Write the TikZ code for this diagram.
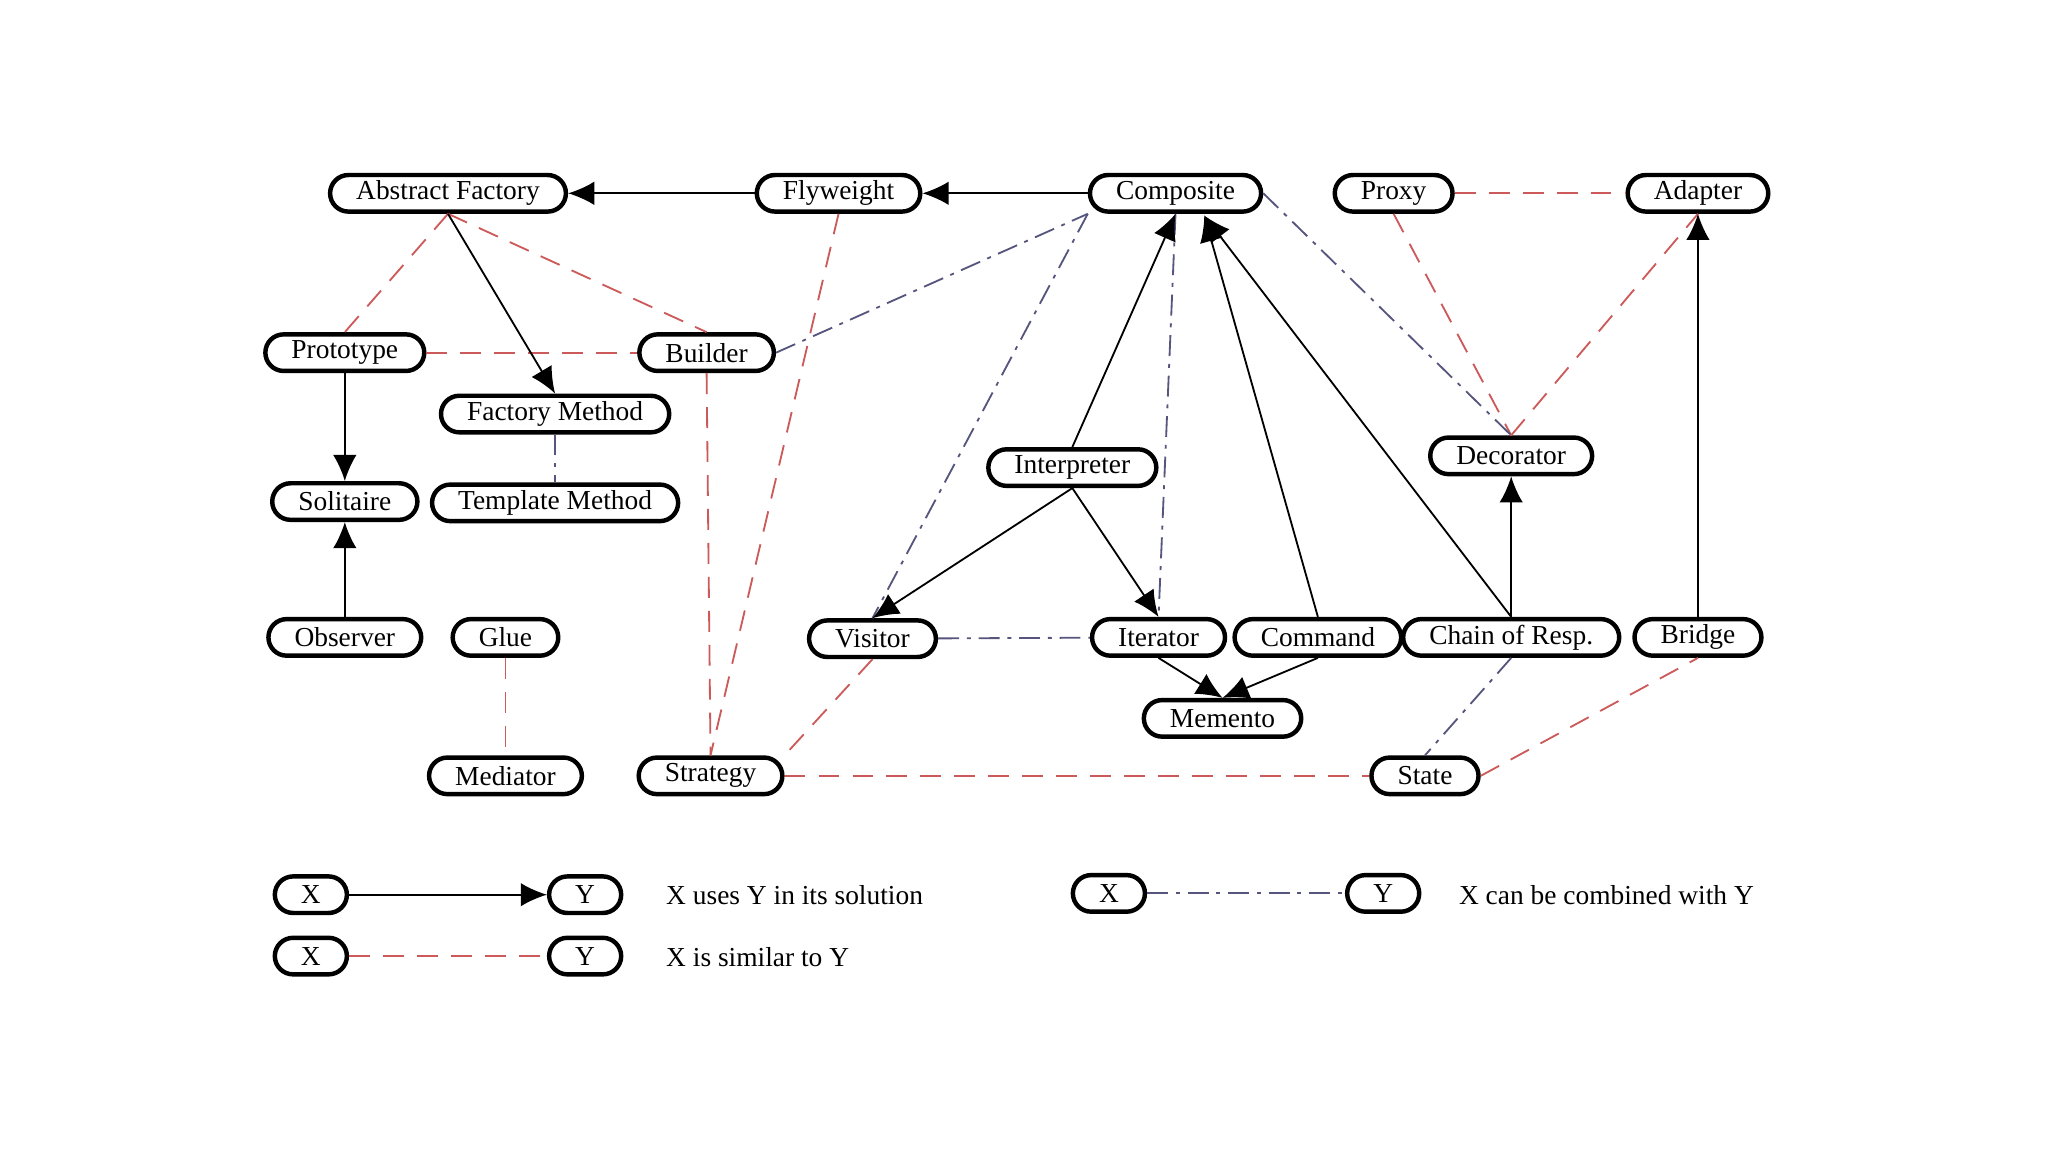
\documentclass[tikz,border=0pt]{standalone}
\usepackage{fontspec}
\setmainfont{Liberation Serif}
\usetikzlibrary{arrows.meta}
\definecolor{simred}{RGB}{205,90,90}
\definecolor{comb}{RGB}{85,85,125}
\begin{document}
\begin{tikzpicture}[x=0.5pt,y=-0.5pt,
  pat/.style={draw,line width=1.7pt,rounded corners=7pt,minimum height=14pt,inner xsep=10pt,inner ysep=1pt,font=\fontsize{10.5}{11}\selectfont,fill=white},
  uses/.style={draw,line width=0.7pt,-{Latex[length=10pt,width=9pt]}},
  similar/.style={draw=simred,line width=0.7pt,dash pattern=on 8pt off 5pt},
  combined/.style={draw=comb,line width=0.7pt,dash pattern=on 8pt off 3pt on 1.5pt off 3pt},
  lbl/.style={anchor=west,font=\fontsize{10.5}{11}\selectfont}]
\useasboundingbox[fill=white] (0,0) rectangle (1568,882);
\node[pat] (af) at (343,148) {Abstract Factory};
\node[pat] (fw) at (642,148) {Flyweight};
\node[pat] (co) at (900,148) {Composite};
\node[pat] (px) at (1067,148) {Proxy};
\node[pat] (ad) at (1300,148) {Adapter};
\node[pat] (pr) at (264,270) {Prototype};
\node[pat] (bu) at (541,270) {Builder};
\node[pat] (fm) at (425,317) {Factory Method};
\node[pat] (tm) at (425,385) {Template Method};
\node[pat] (so) at (264,384) {Solitaire};
\node[pat] (in) at (821,358) {Interpreter};
\node[pat] (de) at (1157,349) {Decorator};
\node[pat] (ob) at (264,488) {Observer};
\node[pat] (gl) at (387,488) {Glue};
\node[pat] (vi) at (668,489) {Visitor};
\node[pat] (it) at (887,488) {Iterator};
\node[pat] (cm) at (1009,488) {Command};
\node[pat] (ch) at (1157,488) {Chain of Resp.};
\node[pat] (br) at (1300,488) {Bridge};
\node[pat] (me) at (936,550) {Memento};
\node[pat] (md) at (387,594) {Mediator};
\node[pat] (st) at (544,594) {Strategy};
\node[pat] (sa) at (1091,594) {State};
\coordinate (coin) at (922,165);
% similar
\draw[similar] (af.south) -- (pr.north);
\draw[similar] (af.south) -- (bu.north);
\draw[similar] (pr) -- (bu);
\draw[similar] (bu.south) -- (st.north);
\draw[similar] (fw.south) -- (st.north);
\draw[similar] (gl) -- (md);
\draw[similar] (vi.south) -- (st.north east);
\draw[similar] (st) -- (sa);
\draw[similar] (sa.east) -- (br.south);
\draw[similar] (px) -- (ad);
\draw[similar] (px.south) -- (de.north);
\draw[similar] (de.north) -- (ad.south);
% combined
\draw[combined] (bu.east) -- (co.south west);
\draw[combined] (co.south west) -- (vi.north);
\draw[combined] (co.south) -- (it.north);
\draw[combined] (co.east) -- (de.north);
\draw[combined] (vi) -- (it);
\draw[combined] (ch.south) -- (sa.north);
\draw[combined] (fm) -- (tm);
% uses
\draw[uses] (fw) -- (af);
\draw[uses] (co) -- (fw);
\draw[uses] (af.south) -- (fm.north);
\draw[uses] (pr) -- (so);
\draw[uses] (ob) -- (so);
\draw[uses] (in.north) -- (co.south);
\draw[uses] (in.south) -- (vi.north);
\draw[uses] (in.south) -- (it.north);
\draw[uses] (cm.north) -- (coin);
\draw[uses] (ch.north) -- (coin);
\draw[uses] (ch) -- (de);
\draw[uses] (br) -- (ad);
\draw[uses] (it.south) -- (me.north);
\draw[uses] (cm.south) -- (me.north);
% legend
\node[pat] (lx1) at (238,685) {X};
\node[pat] (ly1) at (448,685) {Y};
\draw[uses] (lx1) -- (ly1);
\node[lbl] (lt1) at (503,685) {X uses Y in its solution};
\node[pat] (lx2) at (849,684) {X};
\node[pat] (ly2) at (1059,684) {Y};
\draw[combined] (lx2) -- (ly2);
\node[lbl] (lt2) at (1110,685) {X can be combined with Y};
\node[pat] (lx3) at (238,732) {X};
\node[pat] (ly3) at (448,732) {Y};
\draw[similar] (lx3) -- (ly3);
\node[lbl] (lt3) at (503,733) {X is similar to Y};
\end{tikzpicture}
\end{document}
